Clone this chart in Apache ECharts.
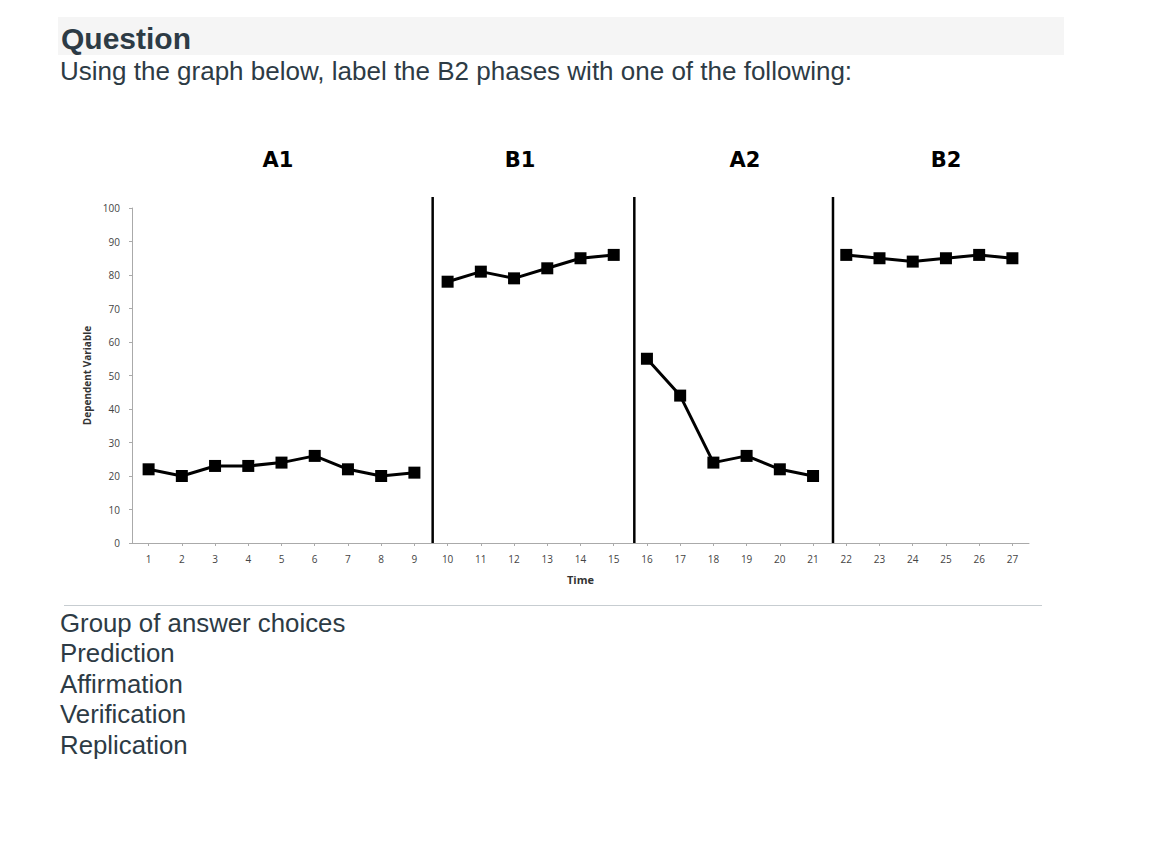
<!DOCTYPE html>
<html>
<head>
<meta charset="utf-8">
<script src="https://cdn.jsdelivr.net/npm/echarts@6/dist/echarts.min.js"></script>
<style>
html,body{margin:0;padding:0;background:#fff;}
#chart{width:1156px;height:842px;}
</style>
</head>
<body>
<div id="chart"></div>
<script>
// ---- data ----
var categories = ['1','2','3','4','5','6','7','8','9','10','11','12','13','14','15','16','17','18','19','20','21','22','23','24','25','26','27'];
var phaseNames = ['A1', 'B1', 'A2', 'B2'];
var phaseA1 = [22, 20, 23, 23, 24, 26, 22, 20, 21];
var phaseB1 = [78, 81, 79, 82, 85, 86];
var phaseA2 = [55, 44, 24, 26, 22, 20];
var phaseB2 = [86, 85, 84, 85, 86, 85];
// phase-change lines (in category units from the left edge)
var phaseChangeAt = [9.05, 15.12, 21.1];
var yTicks = [0, 10, 20, 30, 40, 50, 60, 70, 80, 90, 100];
var answerChoices = ['Prediction', 'Affirmation', 'Verification', 'Replication'];

var phases = [phaseA1, phaseB1, phaseA2, phaseB2];
var TEXT = '#2d3b45';
var SANS = '"Liberation Sans", Arial, sans-serif';

var chart = echarts.init(document.getElementById('chart'), null, {renderer: 'svg'});

var series = [];
var offset = 0;
phases.forEach(function (vals, p) {
  series.push({
    name: phaseNames[p],
    type: 'line',
    xAxisIndex: 0, yAxisIndex: 0,
    data: vals.map(function (v, i) { return [offset + i, v]; }),
    symbol: 'rect',
    symbolSize: 12,
    lineStyle: {color: '#000', width: 3},
    itemStyle: {color: '#000'},
    z: 3
  });
  offset += vals.length;
});
phaseChangeAt.forEach(function (b) {
  series.push({
    type: 'line',
    xAxisIndex: 1, yAxisIndex: 1,
    data: [[b, 0], [b, 103.3]],
    symbol: 'none',
    clip: false,
    lineStyle: {color: '#000', width: 2.5},
    z: 2
  });
});

var phaseLabelX = [278, 520, 745, 946];
var graphics = [
  {type: 'rect', left: 58, top: 17, shape: {width: 1006, height: 38}, style: {fill: '#f5f5f5'}, silent: true},
  {type: 'text', left: 61, top: 23, style: {text: 'Question', fill: TEXT, font: 'bold 30px ' + SANS}},
  {type: 'text', left: 60, top: 58, style: {text: 'Using the graph below, label the B2 phases with one of the following:', fill: TEXT, font: '26px ' + SANS}},
  {type: 'rect', left: 64, top: 605, shape: {width: 978, height: 1}, style: {fill: '#c7cdd1'}, silent: true},
  {type: 'text', left: 60, top: 610, style: {text: 'Group of answer choices', fill: TEXT, font: '25.8px ' + SANS}}
];
answerChoices.forEach(function (c, i) {
  graphics.push({type: 'text', left: 60, top: 640 + i * 30.6, style: {text: c, fill: TEXT, font: '25.8px ' + SANS}});
});
phaseNames.forEach(function (n, i) {
  graphics.push({type: 'text', x: phaseLabelX[i], y: 160, style: {text: n, fill: '#000', font: 'bold 21px "DejaVu Sans", Verdana, sans-serif', textAlign: 'center', textVerticalAlign: 'middle'}});
});

chart.setOption({
  animation: false,
  backgroundColor: '#fff',
  grid: {left: 132, right: 127, top: 208, bottom: 299, containLabel: false},
  xAxis: [{
    type: 'category',
    data: categories,
    boundaryGap: true,
    name: 'Time',
    nameLocation: 'middle',
    nameGap: 31,
    nameTextStyle: {fontFamily: 'Open Sans, sans-serif', fontWeight: 'bold', fontSize: 11, color: '#333'},
    axisLine: {lineStyle: {color: '#aaa', width: 1}},
    axisTick: {show: true, alignWithLabel: true, length: 3, lineStyle: {color: '#aaa'}},
    axisLabel: {fontFamily: 'Open Sans, sans-serif', fontSize: 10, color: '#444', margin: 11, interval: 0},
    splitLine: {show: false}
  }, {
    type: 'value', min: 0, max: categories.length, show: false
  }],
  yAxis: [{
    type: 'value',
    min: yTicks[0], max: yTicks[yTicks.length - 1], interval: 10,
    name: 'Dependent Variable',
    nameLocation: 'middle',
    nameGap: 37,
    nameRotate: 90,
    nameTextStyle: {fontFamily: 'Open Sans, sans-serif', fontWeight: 'bold', fontSize: 10, color: '#333'},
    axisLine: {show: true, lineStyle: {color: '#aaa', width: 1}},
    axisTick: {show: true, length: 3, lineStyle: {color: '#aaa'}},
    axisLabel: {fontFamily: 'Open Sans, sans-serif', fontSize: 10, color: '#444', margin: 12},
    splitLine: {show: false}
  }, {
    type: 'value', min: 0, max: 100, show: false
  }],
  series: series,
  graphic: graphics
});
</script>
</body>
</html>
